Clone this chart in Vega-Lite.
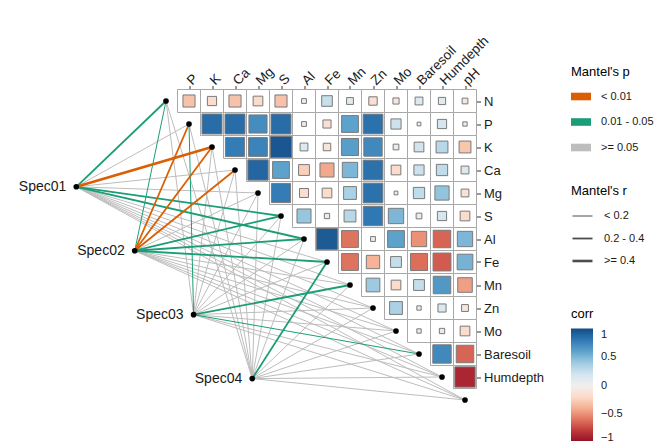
{
  "$schema": "https://vega.github.io/schema/vega-lite/v6.json",
  "width": 299,
  "height": 299,
  "autosize": {"type": "none"},
  "padding": {"left": 177.5, "top": 89.5, "right": 195.5, "bottom": 52.5},
  "background": "white",
  "config": {
    "view": {"stroke": null},
    "font": "Liberation Sans",
    "axis": {"labelOverlap": false, "labelBound": false, "labelFlush": false},
    "legend": {"titleFontSize": 13, "titleFontWeight": "normal", "titleColor": "#000000", "labelFontSize": 11, "labelColor": "#1a1a1a", "labelFont": "Liberation Sans", "titleFont": "Liberation Sans", "titlePadding": 8}
  },
  "datasets": {
    "cells": [
      {"row": "N", "col": "P", "ri": 1, "ci": 1, "r": -0.31},
      {"row": "N", "col": "K", "ri": 1, "ci": 2, "r": -0.18},
      {"row": "N", "col": "Ca", "ri": 1, "ci": 3, "r": -0.31},
      {"row": "N", "col": "Mg", "ri": 1, "ci": 4, "r": -0.2},
      {"row": "N", "col": "S", "ri": 1, "ci": 5, "r": -0.31},
      {"row": "N", "col": "Al", "ri": 1, "ci": 6, "r": -0.05},
      {"row": "N", "col": "Fe", "ri": 1, "ci": 7, "r": 0.24},
      {"row": "N", "col": "Mn", "ri": 1, "ci": 8, "r": 0.1},
      {"row": "N", "col": "Zn", "ri": 1, "ci": 9, "r": -0.15},
      {"row": "N", "col": "Mo", "ri": 1, "ci": 10, "r": -0.08},
      {"row": "N", "col": "Baresoil", "ri": 1, "ci": 11, "r": 0.13},
      {"row": "N", "col": "Humdepth", "ri": 1, "ci": 12, "r": 0.11},
      {"row": "N", "col": "pH", "ri": 1, "ci": 13, "r": -0.07},
      {"row": "P", "col": "K", "ri": 2, "ci": 2, "r": 0.85},
      {"row": "P", "col": "Ca", "ri": 2, "ci": 3, "r": 0.85},
      {"row": "P", "col": "Mg", "ri": 2, "ci": 4, "r": 0.7},
      {"row": "P", "col": "S", "ri": 2, "ci": 5, "r": 0.85},
      {"row": "P", "col": "Al", "ri": 2, "ci": 6, "r": 0.05},
      {"row": "P", "col": "Fe", "ri": 2, "ci": 7, "r": -0.14},
      {"row": "P", "col": "Mn", "ri": 2, "ci": 8, "r": 0.6},
      {"row": "P", "col": "Zn", "ri": 2, "ci": 9, "r": 0.83},
      {"row": "P", "col": "Mo", "ri": 2, "ci": 10, "r": 0.22},
      {"row": "P", "col": "Baresoil", "ri": 2, "ci": 11, "r": 0.03},
      {"row": "P", "col": "Humdepth", "ri": 2, "ci": 12, "r": 0.18},
      {"row": "P", "col": "pH", "ri": 2, "ci": 13, "r": 0.04},
      {"row": "K", "col": "Ca", "ri": 3, "ci": 3, "r": 0.78},
      {"row": "K", "col": "Mg", "ri": 3, "ci": 4, "r": 0.75},
      {"row": "K", "col": "S", "ri": 3, "ci": 5, "r": 0.95},
      {"row": "K", "col": "Al", "ri": 3, "ci": 6, "r": 0.13},
      {"row": "K", "col": "Fe", "ri": 3, "ci": 7, "r": -0.12},
      {"row": "K", "col": "Mn", "ri": 3, "ci": 8, "r": 0.62},
      {"row": "K", "col": "Zn", "ri": 3, "ci": 9, "r": 0.72},
      {"row": "K", "col": "Mo", "ri": 3, "ci": 10, "r": 0.07},
      {"row": "K", "col": "Baresoil", "ri": 3, "ci": 11, "r": 0.2},
      {"row": "K", "col": "Humdepth", "ri": 3, "ci": 12, "r": 0.3},
      {"row": "K", "col": "pH", "ri": 3, "ci": 13, "r": -0.3},
      {"row": "Ca", "col": "Mg", "ri": 4, "ci": 4, "r": 0.88},
      {"row": "Ca", "col": "S", "ri": 4, "ci": 5, "r": 0.6},
      {"row": "Ca", "col": "Al", "ri": 4, "ci": 6, "r": -0.25},
      {"row": "Ca", "col": "Fe", "ri": 4, "ci": 7, "r": -0.42},
      {"row": "Ca", "col": "Mn", "ri": 4, "ci": 8, "r": 0.5},
      {"row": "Ca", "col": "Zn", "ri": 4, "ci": 9, "r": 0.83},
      {"row": "Ca", "col": "Mo", "ri": 4, "ci": 10, "r": -0.2},
      {"row": "Ca", "col": "Baresoil", "ri": 4, "ci": 11, "r": 0.22},
      {"row": "Ca", "col": "Humdepth", "ri": 4, "ci": 12, "r": 0.27},
      {"row": "Ca", "col": "pH", "ri": 4, "ci": 13, "r": 0.13},
      {"row": "Mg", "col": "S", "ri": 5, "ci": 5, "r": 0.78},
      {"row": "Mg", "col": "Al", "ri": 5, "ci": 6, "r": -0.17},
      {"row": "Mg", "col": "Fe", "ri": 5, "ci": 7, "r": -0.2},
      {"row": "Mg", "col": "Mn", "ri": 5, "ci": 8, "r": 0.35},
      {"row": "Mg", "col": "Zn", "ri": 5, "ci": 9, "r": 0.83},
      {"row": "Mg", "col": "Mo", "ri": 5, "ci": 10, "r": 0.03},
      {"row": "Mg", "col": "Baresoil", "ri": 5, "ci": 11, "r": 0.27},
      {"row": "Mg", "col": "Humdepth", "ri": 5, "ci": 12, "r": 0.43},
      {"row": "Mg", "col": "pH", "ri": 5, "ci": 13, "r": -0.13},
      {"row": "S", "col": "Al", "ri": 6, "ci": 6, "r": 0.42},
      {"row": "S", "col": "Fe", "ri": 6, "ci": 7, "r": 0.06},
      {"row": "S", "col": "Mn", "ri": 6, "ci": 8, "r": 0.3},
      {"row": "S", "col": "Zn", "ri": 6, "ci": 9, "r": 0.8},
      {"row": "S", "col": "Mo", "ri": 6, "ci": 10, "r": 0.5},
      {"row": "S", "col": "Baresoil", "ri": 6, "ci": 11, "r": 0.07},
      {"row": "S", "col": "Humdepth", "ri": 6, "ci": 12, "r": 0.18},
      {"row": "S", "col": "pH", "ri": 6, "ci": 13, "r": -0.2},
      {"row": "Al", "col": "Fe", "ri": 7, "ci": 7, "r": 0.93},
      {"row": "Al", "col": "Mn", "ri": 7, "ci": 8, "r": -0.6},
      {"row": "Al", "col": "Zn", "ri": 7, "ci": 9, "r": -0.05},
      {"row": "Al", "col": "Mo", "ri": 7, "ci": 10, "r": 0.6},
      {"row": "Al", "col": "Baresoil", "ri": 7, "ci": 11, "r": -0.5},
      {"row": "Al", "col": "Humdepth", "ri": 7, "ci": 12, "r": -0.65},
      {"row": "Al", "col": "pH", "ri": 7, "ci": 13, "r": 0.5},
      {"row": "Fe", "col": "Mn", "ri": 8, "ci": 8, "r": -0.6},
      {"row": "Fe", "col": "Zn", "ri": 8, "ci": 9, "r": -0.38},
      {"row": "Fe", "col": "Mo", "ri": 8, "ci": 10, "r": 0.25},
      {"row": "Fe", "col": "Baresoil", "ri": 8, "ci": 11, "r": -0.62},
      {"row": "Fe", "col": "Humdepth", "ri": 8, "ci": 12, "r": -0.68},
      {"row": "Fe", "col": "pH", "ri": 8, "ci": 13, "r": 0.52},
      {"row": "Mn", "col": "Zn", "ri": 9, "ci": 9, "r": 0.4},
      {"row": "Mn", "col": "Mo", "ri": 9, "ci": 10, "r": -0.2},
      {"row": "Mn", "col": "Baresoil", "ri": 9, "ci": 11, "r": 0.25},
      {"row": "Mn", "col": "Humdepth", "ri": 9, "ci": 12, "r": 0.65},
      {"row": "Mn", "col": "pH", "ri": 9, "ci": 13, "r": -0.45},
      {"row": "Zn", "col": "Mo", "ri": 10, "ci": 10, "r": 0.35},
      {"row": "Zn", "col": "Baresoil", "ri": 10, "ci": 11, "r": 0.04},
      {"row": "Zn", "col": "Humdepth", "ri": 10, "ci": 12, "r": 0.14},
      {"row": "Zn", "col": "pH", "ri": 10, "ci": 13, "r": -0.1},
      {"row": "Mo", "col": "Baresoil", "ri": 11, "ci": 11, "r": 0.04},
      {"row": "Mo", "col": "Humdepth", "ri": 11, "ci": 12, "r": 0.06},
      {"row": "Mo", "col": "pH", "ri": 11, "ci": 13, "r": -0.2},
      {"row": "Baresoil", "col": "Humdepth", "ri": 12, "ci": 12, "r": 0.72},
      {"row": "Baresoil", "col": "pH", "ri": 12, "ci": 13, "r": -0.65},
      {"row": "Humdepth", "col": "pH", "ri": 13, "ci": 13, "r": -0.88}
    ],
    "envs": [
      {"env": "N", "x": 0, "y": 1},
      {"env": "P", "x": 1, "y": 2},
      {"env": "K", "x": 2, "y": 3},
      {"env": "Ca", "x": 3, "y": 4},
      {"env": "Mg", "x": 4, "y": 5},
      {"env": "S", "x": 5, "y": 6},
      {"env": "Al", "x": 6, "y": 7},
      {"env": "Fe", "x": 7, "y": 8},
      {"env": "Mn", "x": 8, "y": 9},
      {"env": "Zn", "x": 9, "y": 10},
      {"env": "Mo", "x": 10, "y": 11},
      {"env": "Baresoil", "x": 11, "y": 12},
      {"env": "Humdepth", "x": 12, "y": 13},
      {"env": "pH", "x": 13, "y": 14}
    ],
    "specs": [
      {"spec": "Spec01", "x": -3.9, "y": 4.73},
      {"spec": "Spec02", "x": -1.36, "y": 7.51},
      {"spec": "Spec03", "x": 1.2, "y": 10.29},
      {"spec": "Spec04", "x": 3.75, "y": 13.07}
    ],
    "links": [
      {"spec": "Spec01", "env": "P", "pd": ">= 0.05", "rd": "< 0.2"},
      {"spec": "Spec01", "env": "Ca", "pd": ">= 0.05", "rd": "< 0.2"},
      {"spec": "Spec01", "env": "Mg", "pd": ">= 0.05", "rd": "< 0.2"},
      {"spec": "Spec01", "env": "Fe", "pd": ">= 0.05", "rd": "< 0.2"},
      {"spec": "Spec01", "env": "Mn", "pd": ">= 0.05", "rd": "< 0.2"},
      {"spec": "Spec01", "env": "Zn", "pd": ">= 0.05", "rd": "< 0.2"},
      {"spec": "Spec01", "env": "Mo", "pd": ">= 0.05", "rd": "< 0.2"},
      {"spec": "Spec01", "env": "Baresoil", "pd": ">= 0.05", "rd": "< 0.2"},
      {"spec": "Spec01", "env": "Humdepth", "pd": ">= 0.05", "rd": "< 0.2"},
      {"spec": "Spec01", "env": "pH", "pd": ">= 0.05", "rd": "< 0.2"},
      {"spec": "Spec02", "env": "Mg", "pd": ">= 0.05", "rd": "< 0.2"},
      {"spec": "Spec02", "env": "Mn", "pd": ">= 0.05", "rd": "< 0.2"},
      {"spec": "Spec02", "env": "Zn", "pd": ">= 0.05", "rd": "< 0.2"},
      {"spec": "Spec02", "env": "Mo", "pd": ">= 0.05", "rd": "< 0.2"},
      {"spec": "Spec02", "env": "Baresoil", "pd": ">= 0.05", "rd": "< 0.2"},
      {"spec": "Spec02", "env": "Humdepth", "pd": ">= 0.05", "rd": "< 0.2"},
      {"spec": "Spec02", "env": "pH", "pd": ">= 0.05", "rd": "< 0.2"},
      {"spec": "Spec03", "env": "N", "pd": ">= 0.05", "rd": "< 0.2"},
      {"spec": "Spec03", "env": "K", "pd": ">= 0.05", "rd": "< 0.2"},
      {"spec": "Spec03", "env": "Ca", "pd": ">= 0.05", "rd": "< 0.2"},
      {"spec": "Spec03", "env": "Mg", "pd": ">= 0.05", "rd": "< 0.2"},
      {"spec": "Spec03", "env": "S", "pd": ">= 0.05", "rd": "< 0.2"},
      {"spec": "Spec03", "env": "Al", "pd": ">= 0.05", "rd": "< 0.2"},
      {"spec": "Spec03", "env": "Fe", "pd": ">= 0.05", "rd": "< 0.2"},
      {"spec": "Spec03", "env": "Zn", "pd": ">= 0.05", "rd": "< 0.2"},
      {"spec": "Spec03", "env": "Mo", "pd": ">= 0.05", "rd": "< 0.2"},
      {"spec": "Spec03", "env": "Humdepth", "pd": ">= 0.05", "rd": "< 0.2"},
      {"spec": "Spec03", "env": "pH", "pd": ">= 0.05", "rd": "< 0.2"},
      {"spec": "Spec04", "env": "N", "pd": ">= 0.05", "rd": "< 0.2"},
      {"spec": "Spec04", "env": "P", "pd": ">= 0.05", "rd": "< 0.2"},
      {"spec": "Spec04", "env": "K", "pd": ">= 0.05", "rd": "< 0.2"},
      {"spec": "Spec04", "env": "Ca", "pd": ">= 0.05", "rd": "< 0.2"},
      {"spec": "Spec04", "env": "Mg", "pd": ">= 0.05", "rd": "< 0.2"},
      {"spec": "Spec04", "env": "S", "pd": ">= 0.05", "rd": "< 0.2"},
      {"spec": "Spec04", "env": "Al", "pd": ">= 0.05", "rd": "< 0.2"},
      {"spec": "Spec04", "env": "Mn", "pd": ">= 0.05", "rd": "< 0.2"},
      {"spec": "Spec04", "env": "Zn", "pd": ">= 0.05", "rd": "< 0.2"},
      {"spec": "Spec04", "env": "Mo", "pd": ">= 0.05", "rd": "< 0.2"},
      {"spec": "Spec04", "env": "Baresoil", "pd": ">= 0.05", "rd": "< 0.2"},
      {"spec": "Spec04", "env": "Humdepth", "pd": ">= 0.05", "rd": "< 0.2"},
      {"spec": "Spec04", "env": "pH", "pd": ">= 0.05", "rd": "< 0.2"},
      {"spec": "Spec01", "env": "N", "pd": "0.01 - 0.05", "rd": "0.2 - 0.4"},
      {"spec": "Spec01", "env": "S", "pd": "0.01 - 0.05", "rd": "0.2 - 0.4"},
      {"spec": "Spec01", "env": "Al", "pd": "0.01 - 0.05", "rd": "0.2 - 0.4"},
      {"spec": "Spec02", "env": "N", "pd": "0.01 - 0.05", "rd": "< 0.2"},
      {"spec": "Spec02", "env": "S", "pd": "0.01 - 0.05", "rd": "0.2 - 0.4"},
      {"spec": "Spec02", "env": "Al", "pd": "0.01 - 0.05", "rd": "0.2 - 0.4"},
      {"spec": "Spec02", "env": "Fe", "pd": "0.01 - 0.05", "rd": "0.2 - 0.4"},
      {"spec": "Spec03", "env": "P", "pd": "0.01 - 0.05", "rd": "< 0.2"},
      {"spec": "Spec03", "env": "Mn", "pd": "0.01 - 0.05", "rd": "0.2 - 0.4"},
      {"spec": "Spec03", "env": "Baresoil", "pd": "0.01 - 0.05", "rd": "< 0.2"},
      {"spec": "Spec04", "env": "Fe", "pd": "0.01 - 0.05", "rd": "0.2 - 0.4"},
      {"spec": "Spec01", "env": "K", "pd": "< 0.01", "rd": ">= 0.4"},
      {"spec": "Spec02", "env": "P", "pd": "< 0.01", "rd": "0.2 - 0.4"},
      {"spec": "Spec02", "env": "K", "pd": "< 0.01", "rd": "0.2 - 0.4"},
      {"spec": "Spec02", "env": "Ca", "pd": "< 0.01", "rd": "0.2 - 0.4"}
    ]
  },
  "layer": [
    {
      "data": {"name": "cells"},
      "mark": {"type": "point", "shape": "square", "size": 529, "filled": true, "fill": "white", "stroke": "#A8A8A8", "strokeWidth": 1, "opacity": 1},
      "encoding": {
        "x": {"field": "ci", "type": "quantitative", "scale": {"domain": [0.5, 13.5], "nice": false, "zero": false},
          "axis": {"orient": "top", "values": [1,2,3,4,5,6,7,8,9,10,11,12,13], "tickCount": 30, "labelExpr": "['P','K','Ca','Mg','S','Al','Fe','Mn','Zn','Mo','Baresoil','Humdepth','pH'][datum.value-1]", "labelAngle": -45, "labelAlign": "left", "labelBaseline": "middle", "labelPadding": 3, "tickSize": 4, "tickColor": "#333333", "domain": false, "grid": false, "title": null, "labelFontSize": 13.5, "labelColor": "#1a1a1a", "labelFont": "Liberation Sans", "labelOverlap": false}},
        "y": {"field": "ri", "type": "quantitative", "scale": {"domain": [0.5, 13.5], "nice": false, "zero": false, "reverse": true},
          "axis": {"orient": "right", "values": [1,2,3,4,5,6,7,8,9,10,11,12,13], "tickCount": 30, "labelExpr": "['N','P','K','Ca','Mg','S','Al','Fe','Mn','Zn','Mo','Baresoil','Humdepth'][datum.value-1]", "labelPadding": 3, "tickSize": 4, "tickColor": "#333333", "domain": false, "grid": false, "title": null, "labelFontSize": 13, "labelColor": "#1a1a1a", "labelFont": "Liberation Sans", "labelOverlap": false}}
      }
    },
    {
      "data": {"name": "cells"},
      "mark": {"type": "point", "shape": "square", "filled": true, "stroke": "#7A7A7A", "strokeWidth": 1, "opacity": 1},
      "encoding": {
        "x": {"field": "ci", "type": "quantitative", "scale": {"domain": [0.5, 13.5], "nice": false, "zero": false}},
        "y": {"field": "ri", "type": "quantitative", "scale": {"domain": [0.5, 13.5], "nice": false, "zero": false, "reverse": true}},
        "fill": {"field": "r", "type": "quantitative", "scale": {"scheme": "redblue", "domain": [-1, 1]},
          "legend": {"title": "corr", "orient": "none", "legendX": 393.5, "legendY": 218, "direction": "vertical", "gradientLength": 114, "gradientThickness": 22, "values": [-1, -0.5, 0, 0.5, 1], "format": "~g", "labelOffset": 8}},
        "size": {"field": "r", "type": "quantitative", "scale": {"domain": [-1, 0, 1], "range": [470, 0, 470]}, "legend": null}
      }
    },
    {
      "data": {"name": "links"},
      "transform": [
        {"lookup": "spec", "from": {"data": {"name": "specs"}, "key": "spec", "fields": ["x", "y"]}, "as": ["sx", "sy"]},
        {"lookup": "env", "from": {"data": {"name": "envs"}, "key": "env", "fields": ["x", "y"]}, "as": ["ex", "ey"]}
      ],
      "mark": {"type": "rule"},
      "encoding": {
        "x": {"field": "sx", "type": "quantitative", "scale": {"domain": [0.5, 13.5], "nice": false, "zero": false}},
        "y": {"field": "sy", "type": "quantitative", "scale": {"domain": [0.5, 13.5], "nice": false, "zero": false, "reverse": true}},
        "x2": {"field": "ex"},
        "y2": {"field": "ey"},
        "stroke": {"field": "pd", "type": "nominal", "scale": {"domain": ["< 0.01", "0.01 - 0.05", ">= 0.05"], "range": ["#D95F02", "#1B9E77", "#BDBDBD"]},
          "legend": {"title": "Mantel's p", "orient": "none", "legendX": 393.5, "legendY": -24, "symbolType": "M-1,-0.38H1V0.38H-1Z", "symbolSize": 400, "symbolStrokeWidth": 0, "rowPadding": 10.5, "labelOffset": 10,
            "encode": {"symbols": {"update": {"fill": {"scale": "stroke", "field": "value"}, "strokeWidth": {"value": 0}}}}}},
        "strokeWidth": {"field": "rd", "type": "ordinal", "scale": {"domain": ["< 0.2", "0.2 - 0.4", ">= 0.4"], "range": [1, 2.6, 5]},
          "legend": {"title": "Mantel's r", "orient": "none", "legendX": 393.5, "legendY": 95, "symbolType": "stroke", "symbolSize": 400, "symbolStrokeColor": "#4D4D4D", "rowPadding": 6, "labelOffset": 10}}
      }
    },
    {
      "data": {"name": "envs"},
      "mark": {"type": "point", "filled": true, "color": "black", "size": 32, "opacity": 1},
      "encoding": {
        "x": {"field": "x", "type": "quantitative", "scale": {"domain": [0.5, 13.5], "nice": false, "zero": false}},
        "y": {"field": "y", "type": "quantitative", "scale": {"domain": [0.5, 13.5], "nice": false, "zero": false, "reverse": true}}
      }
    },
    {
      "data": {"name": "specs"},
      "mark": {"type": "point", "filled": true, "color": "black", "size": 32, "opacity": 1},
      "encoding": {
        "x": {"field": "x", "type": "quantitative", "scale": {"domain": [0.5, 13.5], "nice": false, "zero": false}},
        "y": {"field": "y", "type": "quantitative", "scale": {"domain": [0.5, 13.5], "nice": false, "zero": false, "reverse": true}}
      }
    },
    {
      "data": {"name": "specs"},
      "mark": {"type": "text", "align": "right", "baseline": "middle", "dx": -10, "fontSize": 14, "font": "Liberation Sans", "color": "#1a1a1a"},
      "encoding": {
        "x": {"field": "x", "type": "quantitative", "scale": {"domain": [0.5, 13.5], "nice": false, "zero": false}},
        "y": {"field": "y", "type": "quantitative", "scale": {"domain": [0.5, 13.5], "nice": false, "zero": false, "reverse": true}},
        "text": {"field": "spec"}
      }
    }
  ]
}
